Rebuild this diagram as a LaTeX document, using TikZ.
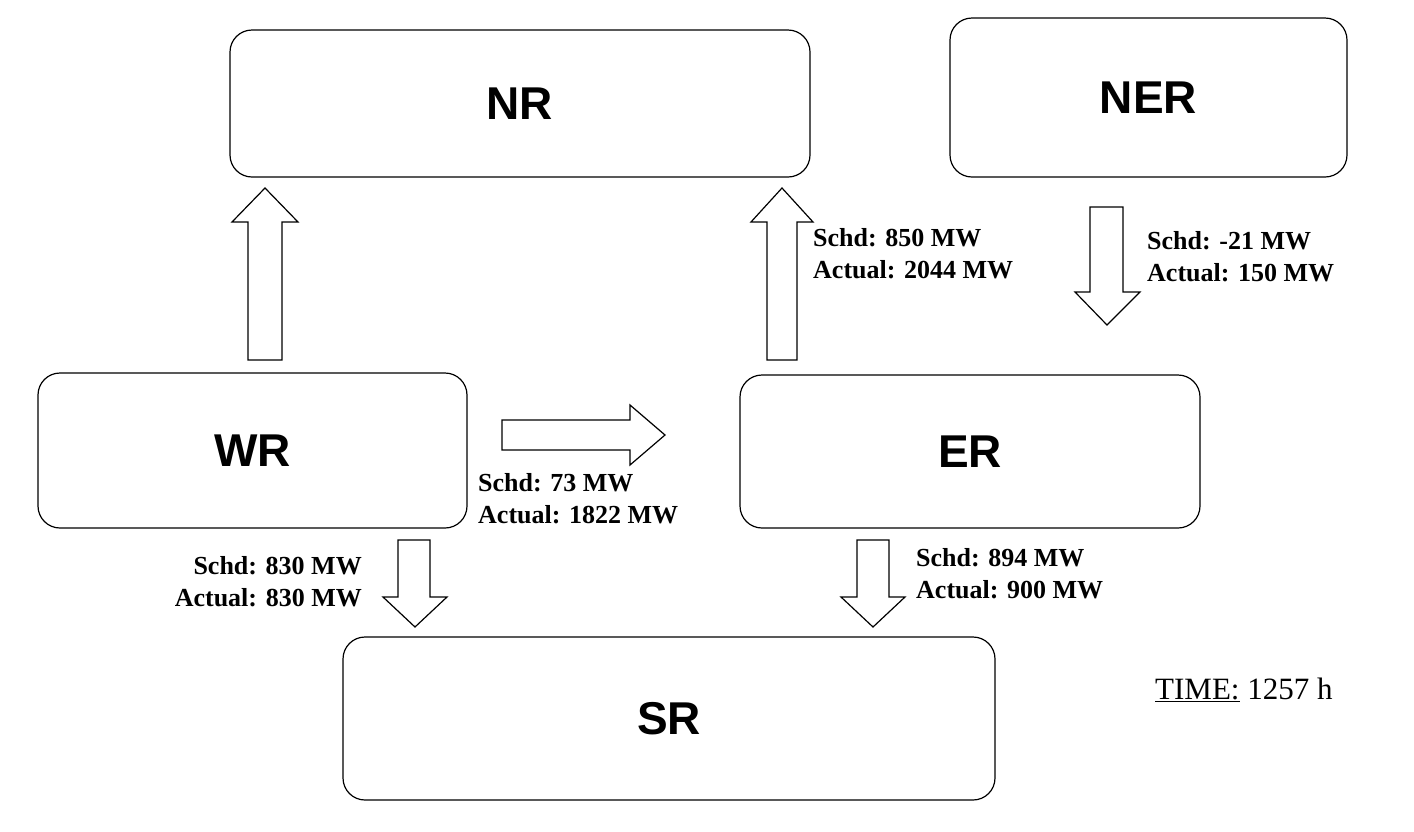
\documentclass[tikz,border=0pt]{standalone}
\usepackage{fontspec}
\setmainfont{Liberation Serif}
\newfontfamily\boxfont{Liberation Sans}
\begin{document}
\begin{tikzpicture}[x=1pt,y=-1pt,
  region/.style={draw,line width=1.2pt,rounded corners=22pt,font=\boxfont\bfseries\fontsize{46}{48}\selectfont},
  blk/.style={draw,line width=1.2pt,fill=white,line join=miter},
  lbl/.style={font=\bfseries\fontsize{26}{32}\selectfont,anchor=west,align=left,inner sep=0pt}]
\useasboundingbox (0,0) rectangle (1414,831);
\node[region,minimum width=580pt,minimum height=147pt] (NR) at (520,103.5) {NR};
\node[region,minimum width=397pt,minimum height=159pt] (NER) at (1148.5,97.5) {NER};
\node[region,minimum width=429pt,minimum height=155pt] (WR) at (252.5,450.5) {WR};
\node[region,minimum width=460pt,minimum height=153pt] (ER) at (970,451.5) {ER};
\node[region,minimum width=652pt,minimum height=163pt] (SR) at (669,718.5) {SR};
% up arrows
\draw[blk] (248,360) -- (248,222) -- (232,222) -- (265,188) -- (298,222) -- (282,222) -- (282,360) -- cycle;
\draw[blk] (767,360) -- (767,222) -- (751,222) -- (782,188) -- (813,222) -- (797,222) -- (797,360) -- cycle;
% down arrows
\draw[blk] (1090,207) -- (1090,292) -- (1075,292) -- (1107,325) -- (1140,292) -- (1123,292) -- (1123,207) -- cycle;
\draw[blk] (398,540) -- (398,597) -- (383,597) -- (415,627) -- (447,597) -- (430,597) -- (430,540) -- cycle;
\draw[blk] (857,540) -- (857,597) -- (841,597) -- (873,627) -- (905,597) -- (889,597) -- (889,540) -- cycle;
% right arrow
\draw[blk] (502,420) -- (630,420) -- (630,405) -- (665,435) -- (630,465) -- (630,450) -- (502,450) -- cycle;
% labels
\node[lbl] (l1) at (813,254) {Schd: 850 MW\\Actual: 2044 MW};
\node[lbl] (l2) at (1147,257) {Schd: -21 MW\\Actual: 150 MW};
\node[lbl] (l3) at (478,499) {Schd: 73 MW\\Actual: 1822 MW};
\node[lbl,anchor=east,align=right] (l4) at (362,582) {Schd: 830 MW\\Actual: 830 MW};
\node[lbl] (l5) at (916,574) {Schd: 894 MW\\Actual: 900 MW};
\node[font=\fontsize{31}{33}\selectfont,anchor=west,inner sep=0pt] (t) at (1155,690) {\underline{TIME:} 1257 h};
\end{tikzpicture}
\end{document}
